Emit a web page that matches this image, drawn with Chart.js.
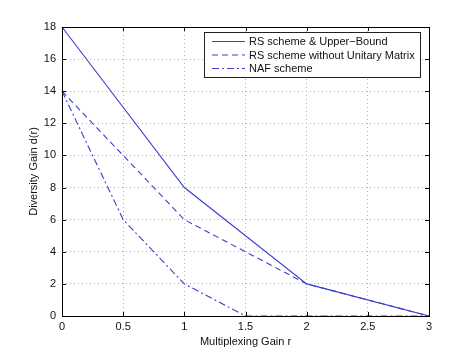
<!DOCTYPE html>
<html>
<head>
<meta charset="utf-8">
<script src="https://cdn.jsdelivr.net/npm/chart.js@4.4.0/dist/chart.umd.min.js"></script>
<style>
  html, body { margin: 0; padding: 0; background: #fff; }
  #wrap { width: 474px; height: 355px; }
</style>
</head>
<body>
<div id="wrap"><canvas id="c" width="474" height="355"></canvas></div>
<script>
// ---- data ----
const seriesNames = ["RS scheme & Upper\u2212Bound", "RS scheme without Unitary Matrix", "NAF scheme"];
const rsUpperX = [0, 1, 2, 3];
const rsUpperY = [18, 8, 2, 0];
const rsNoUnitaryX = [0, 1, 2, 3];
const rsNoUnitaryY = [14, 6, 2, 0];
const nafX = [0, 0.5, 1, 1.5, 3];
const nafY = [14, 6, 2, 0, 0];
const xTicks = [0, 0.5, 1, 1.5, 2, 2.5, 3];
const yTicks = [0, 2, 4, 6, 8, 10, 12, 14, 16, 18];
const xTitle = "Multiplexing Gain r";
const yTitle = "Diversity Gain d(r)";

const toPts = (xs, ys) => xs.map((x, i) => ({ x: x, y: ys[i] }));
const LINE = '#3c3cd2';
const FONT = "'Liberation Sans', Arial, sans-serif";

const dashes = [[], [6, 4], [7, 3, 2, 3]];

const framePlugin = {
  id: 'frame',
  afterDatasetsDraw(chart) {
    const { ctx, chartArea: a, scales } = chart;
    ctx.save();
    ctx.strokeStyle = '#000';
    ctx.lineWidth = 1;
    // ticks inside
    ctx.beginPath();
    const tl = 4;
    xTicks.forEach(v => {
      const px = Math.round(scales.x.getPixelForValue(v)) + 0.5;
      ctx.moveTo(px, a.bottom); ctx.lineTo(px, a.bottom - tl);
      ctx.moveTo(px, a.top); ctx.lineTo(px, a.top + tl);
    });
    yTicks.forEach(v => {
      const py = Math.round(scales.y.getPixelForValue(v)) + 0.5;
      ctx.moveTo(a.left, py); ctx.lineTo(a.left + tl, py);
      ctx.moveTo(a.right, py); ctx.lineTo(a.right - tl, py);
    });
    ctx.stroke();
    ctx.strokeRect(Math.round(a.left) + 0.5, Math.round(a.top) + 0.5,
                   Math.round(a.right - a.left), Math.round(a.bottom - a.top));
    // legend
    const lx = 204.5, ly = 32.5, lw = 216, lh = 45;
    ctx.fillStyle = '#fff';
    ctx.fillRect(lx, ly, lw, lh);
    ctx.strokeStyle = '#222';
    ctx.strokeRect(lx, ly, lw, lh);
    const rows = [41.5, 55, 68.5];
    ctx.font = '11px ' + FONT;
    ctx.textBaseline = 'middle';
    ctx.textAlign = 'left';
    chart.data.datasets.forEach((ds, i) => {
      ctx.strokeStyle = LINE;
      ctx.setLineDash(dashes[i]);
      ctx.beginPath();
      ctx.moveTo(212, rows[i]); ctx.lineTo(245, rows[i]);
      ctx.stroke();
      ctx.setLineDash([]);
      ctx.fillStyle = '#111';
      ctx.fillText(ds.label, 249, rows[i] + 0.5);
    });
    ctx.restore();
  }
};

new Chart(document.getElementById('c'), {
  type: 'line',
  data: {
    datasets: [
      { label: seriesNames[0], data: toPts(rsUpperX, rsUpperY), borderDash: dashes[0] },
      { label: seriesNames[1], data: toPts(rsNoUnitaryX, rsNoUnitaryY), borderDash: dashes[1] },
      { label: seriesNames[2], data: toPts(nafX, nafY), borderDash: dashes[2] }
    ].map(d => Object.assign(d, {
      borderColor: LINE, borderWidth: 1.1, pointRadius: 0, fill: false, tension: 0
    }))
  },
  options: {
    responsive: false,
    animation: false,
    clip: false,
    layout: { padding: { top: 27, right: 45, left: 27, bottom: 6 } },
    plugins: { legend: { display: false }, tooltip: { enabled: false } },
    scales: {
      x: {
        type: 'linear', min: 0, max: 3,
        afterBuildTicks: s => { s.ticks = xTicks.map(v => ({ value: v })); },
        afterFit: s => { s.height = 33; },
        grid: { color: '#b0b0b0', lineWidth: 1, drawTicks: false },
        border: { display: false, dash: [1, 3] },
        ticks: { color: '#111', font: { family: FONT, size: 11 }, padding: 4, maxRotation: 0,
                 callback: v => String(v) },
        title: { display: true, text: xTitle, color: '#111', font: { family: FONT, size: 11 }, padding: { top: 1, bottom: 0 } }
      },
      y: {
        type: 'linear', min: 0, max: 18,
        afterBuildTicks: s => { s.ticks = yTicks.map(v => ({ value: v })); },
        afterFit: s => { s.width = 35; },
        grid: { color: '#b0b0b0', lineWidth: 1, drawTicks: false },
        border: { display: false, dash: [1, 3] },
        ticks: { color: '#111', font: { family: FONT, size: 11 }, padding: 6,
                 callback: v => String(v) },
        title: { display: true, text: yTitle, color: '#111', font: { family: FONT, size: 11 }, padding: { top: 0, bottom: 4 } }
      }
    }
  },
  plugins: [framePlugin]
});
</script>
</body>
</html>
